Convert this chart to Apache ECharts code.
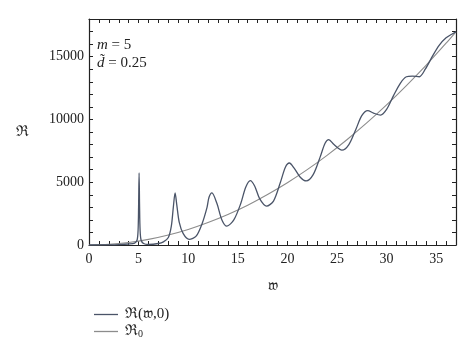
<!DOCTYPE html>
<html>
<head>
    <meta charset="utf-8">
    <script src="https://cdn.jsdelivr.net/npm/echarts@6/dist/echarts.min.js"></script>
</head>
<body style="margin:0">
    <div id="main" style="width:474px; height:353px"></div>
    <script type="text/javascript">
        // resonance curve R(w,0)
        var wRes = [0, 2, 3, 4, 4.6, 4.85, 4.95, 5.0, 5.05, 5.1, 5.15, 5.25, 5.5, 6, 7, 7.5, 8.0, 8.3, 8.5, 8.68, 8.85, 9.1, 9.5, 10.1, 10.8, 11.4, 11.9, 12.1, 12.39, 12.9, 13.4, 13.9, 14.6, 15.3, 15.8, 16.26, 16.7, 17.2, 17.9, 18.6, 19.3, 19.8, 20.2, 20.7, 21.3, 21.9, 22.6, 23.3, 23.8, 24.17, 24.7, 25.5, 26.2, 26.9, 27.5, 28.1, 28.7, 29.4, 30.0, 30.7, 31.4, 32.0, 32.6, 33.3, 33.9, 34.6, 35.3, 36.0, 36.7, 37];
        var rRes = [0, 10, 30, 80, 150, 400, 1200, 3000, 5740, 3000, 1200, 400, 120, 40, 120, 250, 600, 1500, 3000, 4150, 3200, 1800, 900, 450, 700, 1700, 3000, 3800, 4150, 3300, 2000, 1500, 2000, 3300, 4600, 5130, 4700, 3700, 3100, 3500, 5000, 6200, 6530, 6100, 5400, 5100, 5600, 7000, 8100, 8400, 8000, 7550, 8000, 9200, 10300, 10700, 10500, 10350, 10800, 11900, 12900, 13400, 13450, 13400, 14000, 15000, 15900, 16500, 16850, 16980];
        // smooth background R0
        var wBase = [0, 2, 4, 6, 8, 10, 12, 14, 16, 18, 20, 22, 24, 26, 28, 30, 32, 34, 36, 37];
        var rBase = [0, 50, 200, 450, 800, 1240, 1790, 2430, 3170, 4020, 4960, 6000, 7140, 8380, 9720, 11160, 12700, 14330, 16070, 16980];
        var legendNames = ['res', 'base'];

        function zip(a, b) {
            return a.map(function (v, i) { return [v, b[i]]; });
        }

        var serif = 'Liberation Serif';
        var ink = '#222';
        var frameLine = { show: true, onZero: false, lineStyle: { color: ink, width: 1.2 } };
        var tick = { inside: true, length: 4, lineStyle: { color: ink } };

        var myChart = echarts.init(document.getElementById('main'));
        var option = {
            animation: false,
            grid: {
                left: 89,
                right: 18,
                top: 19,
                bottom: 108
            },
            legend: {
                left: 89,
                top: 302,
                orient: 'vertical',
                icon: 'rect',
                itemWidth: 24,
                itemHeight: 1.3,
                itemGap: 2,
                data: legendNames,
                formatter: function (n) {
                    return n === 'res' ? '{a|ℜ(𝔴,0)}' : '{a|ℜ}{s|0}';
                },
                textStyle: {
                    padding: [0, 0, 0, 2],
                    rich: {
                        a: { fontFamily: serif, fontSize: 15, color: ink },
                        s: { fontFamily: serif, fontSize: 10, color: ink, verticalAlign: 'bottom', padding: [6, 0, 0, 0] }
                    }
                }
            },
            graphic: [{
                type: 'text',
                left: 97,
                top: 36,
                style: {
                    text: '{i|m} = 5\n{i|d̃} = 0.25',
                    fontFamily: serif,
                    fontSize: 15,
                    lineHeight: 18,
                    fill: ink,
                    rich: {
                        i: { fontFamily: serif, fontStyle: 'italic', fontSize: 15, fill: ink }
                    }
                }
            }],
            xAxis: [{
                type: 'value',
                min: 0,
                max: 37,
                interval: 1,
                name: '𝔴',
                nameLocation: 'middle',
                nameGap: 34,
                nameTextStyle: { fontFamily: serif, fontSize: 15, color: ink },
                axisLine: frameLine,
                axisTick: tick,
                axisLabel: {
                    margin: 7,
                    fontFamily: serif,
                    fontSize: 14,
                    color: ink,
                    showMaxLabel: false,
                    formatter: function (v) { return v % 5 === 0 ? String(v) : ''; }
                },
                splitLine: { show: false }
            }, {
                type: 'value',
                position: 'top',
                min: 0,
                max: 37,
                interval: 1,
                axisLine: frameLine,
                axisTick: tick,
                axisLabel: { show: false },
                splitLine: { show: false }
            }],
            yAxis: [{
                type: 'value',
                min: 0,
                max: 18000,
                interval: 1000,
                name: 'ℜ',
                nameLocation: 'middle',
                nameRotate: 0,
                nameGap: 60,
                nameTextStyle: { fontFamily: serif, fontSize: 15, color: ink },
                axisLine: frameLine,
                axisTick: tick,
                axisLabel: {
                    margin: 5,
                    fontFamily: serif,
                    fontSize: 14,
                    color: ink,
                    showMaxLabel: false,
                    formatter: function (v) { return v % 5000 === 0 ? String(v) : ''; }
                },
                splitLine: { show: false }
            }, {
                type: 'value',
                position: 'right',
                min: 0,
                max: 18000,
                interval: 1000,
                axisLine: frameLine,
                axisTick: tick,
                axisLabel: { show: false },
                splitLine: { show: false }
            }],
            series: [{
                name: 'res',
                type: 'line',
                symbol: 'none',
                smooth: 0.3,
                data: zip(wRes, rRes),
                lineStyle: { color: '#4a5468', width: 1.3 },
                itemStyle: { color: '#4a5468' },
                z: 3
            }, {
                name: 'base',
                type: 'line',
                symbol: 'none',
                smooth: 0.3,
                data: zip(wBase, rBase),
                lineStyle: { color: '#8c8c8c', width: 1.1 },
                itemStyle: { color: '#8c8c8c' },
                z: 2
            }]
        };
        myChart.setOption(option);
    </script>
</body>
</html>
